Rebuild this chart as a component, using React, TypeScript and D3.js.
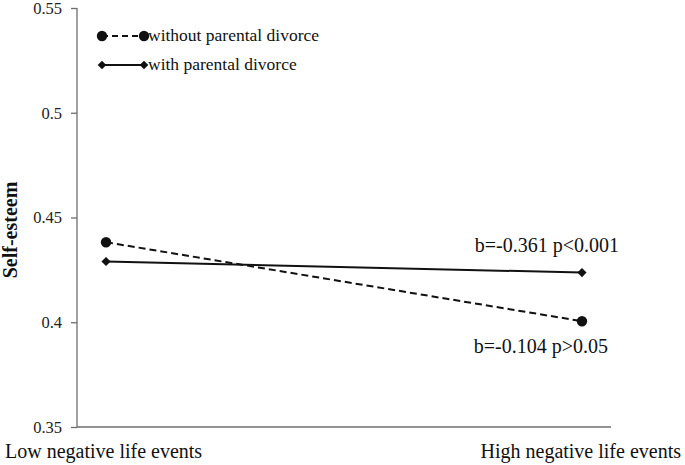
import { axisLeft, line, scaleLinear, scalePoint, select } from "d3";
import { useEffect, useRef } from "react";

const categories = ["Low negative life events", "High negative life events"];
const withoutDivorce = [0.4382, 0.4005];
const withDivorce = [0.429, 0.4237];
const yTicks = [0.35, 0.4, 0.45, 0.5, 0.55];
const seriesLabels = ["without parental divorce", "with parental divorce"];
const slopeLabels = ["b=-0.361 p<0.001", "b=-0.104 p>0.05"];

const FONT = "'Times New Roman', 'Liberation Serif', serif";
const INK = "#111";

// square turned 45 degrees, the marker Excel calls a diamond
const diamondPath = (r: number) => `M0,${-r}L${r},0L0,${r}L${-r},0Z`;

export default function App() {
  const svgRef = useRef<SVGSVGElement | null>(null);

  useEffect(() => {
    if (!svgRef.current) return;
    const svg = select(svgRef.current);
    svg.selectAll("*").remove();

    const width = 685;
    const height = 465;
    const margin = { top: 8, right: 74, bottom: 38, left: 77 };
    const innerWidth = width - margin.left - margin.right;
    const innerHeight = height - margin.top - margin.bottom;

    const x = scalePoint<string>().domain(categories).range([0, innerWidth]).padding(0.061);
    const y = scaleLinear().domain([0.35, 0.55]).range([innerHeight, 0]);

    const chart = svg.append("g").attr("transform", `translate(${margin.left},${margin.top})`);

    // y axis
    const yAxis = chart
      .append("g")
      .attr("font-family", FONT)
      .call(
        axisLeft(y)
          .tickValues(yTicks)
          .tickSize(6)
          .tickPadding(9)
          .tickFormat((d) => String(+d)),
      );
    yAxis.attr("font-family", null);
    yAxis.select(".domain").attr("stroke", "#6e6e6e").attr("stroke-width", 1.3).attr("d", `M0,0V${innerHeight}`);
    yAxis.selectAll("line").attr("stroke", "#6e6e6e").attr("stroke-width", 1.3);
    yAxis
      .selectAll("text")
      .style("font-family", FONT)
      .style("font-size", "16.5px")
      .attr("fill", "#222");

    // x axis line
    chart
      .append("line")
      .attr("x1", 0)
      .attr("x2", innerWidth)
      .attr("y1", innerHeight)
      .attr("y2", innerHeight)
      .attr("stroke", "#6e6e6e")
      .attr("stroke-width", 1.3);

    const addText = (
      parent: any,
      xPos: number,
      yPos: number,
      size: number,
      content: string,
      anchor = "start",
    ) =>
      parent
        .append("text")
        .attr("x", xPos)
        .attr("y", yPos)
        .attr("text-anchor", anchor)
        .style("font-family", FONT)
        .style("font-size", `${size}px`)
        .attr("fill", INK)
        .text(content);

    // category labels
    addText(svg, 5, 458, 20, categories[0]);
    addText(svg, 681, 458, 20, categories[1], "end");

    // y label
    svg
      .append("text")
      .attr("transform", `translate(17,230) rotate(-90)`)
      .attr("text-anchor", "middle")
      .style("font-family", FONT)
      .style("font-size", "20px")
      .style("font-weight", "bold")
      .attr("fill", INK)
      .text("Self-esteem");

    const lineGen = line<number>()
      .x((_, i) => x(categories[i]) ?? 0)
      .y((d) => y(d));

    chart
      .append("path")
      .attr("d", lineGen(withoutDivorce))
      .attr("fill", "none")
      .attr("stroke", INK)
      .attr("stroke-width", 2)
      .attr("stroke-dasharray", "7,4");
    chart
      .append("path")
      .attr("d", lineGen(withDivorce))
      .attr("fill", "none")
      .attr("stroke", INK)
      .attr("stroke-width", 2);

    chart
      .selectAll("circle.pt")
      .data(withoutDivorce)
      .join("circle")
      .attr("class", "pt")
      .attr("cx", (_, i) => x(categories[i]) ?? 0)
      .attr("cy", (d) => y(d))
      .attr("r", 5.2)
      .attr("fill", INK);

    chart
      .selectAll("path.dm")
      .data(withDivorce)
      .join("path")
      .attr("class", "dm")
      .attr("d", diamondPath(4.6))
      .attr("transform", (d, i) => `translate(${x(categories[i]) ?? 0},${y(d)})`)
      .attr("fill", INK);

    // slope annotations (chart coords)
    const hx = x(categories[1]) ?? 0;
    addText(chart, hx - 35, y(withDivorce[1]) - 21, 20, slopeLabels[0], "middle");
    addText(chart, hx - 41, y(withoutDivorce[1]) + 32, 20, slopeLabels[1], "middle");

    // legend
    const legend = svg.append("g").attr("transform", "translate(102,0)");
    const l1 = legend.append("g").attr("transform", "translate(0,36)");
    l1.append("line").attr("x1", 0).attr("x2", 42).attr("stroke", INK).attr("stroke-width", 2).attr("stroke-dasharray", "6,4");
    l1.append("circle").attr("cx", 0).attr("r", 5.2).attr("fill", INK);
    l1.append("circle").attr("cx", 42).attr("r", 5.2).attr("fill", INK);
    addText(l1, 46, 5, 17.5, seriesLabels[0]);
    const l2 = legend.append("g").attr("transform", "translate(0,65)");
    l2.append("line").attr("x1", 0).attr("x2", 42).attr("stroke", INK).attr("stroke-width", 2);
    l2.append("path").attr("d", diamondPath(4.3)).attr("fill", INK);
    l2.append("path").attr("d", diamondPath(4.3)).attr("transform", "translate(42,0)").attr("fill", INK);
    addText(l2, 46, 5, 17.5, seriesLabels[1]);
  }, []);

  return (
    <svg
      ref={svgRef}
      width={685}
      height={465}
      style={{ position: "absolute", left: 0, top: 0, background: "#fff" }}
      role="img"
      aria-label="Self-esteem by negative life events and parental divorce"
    />
  );
}
